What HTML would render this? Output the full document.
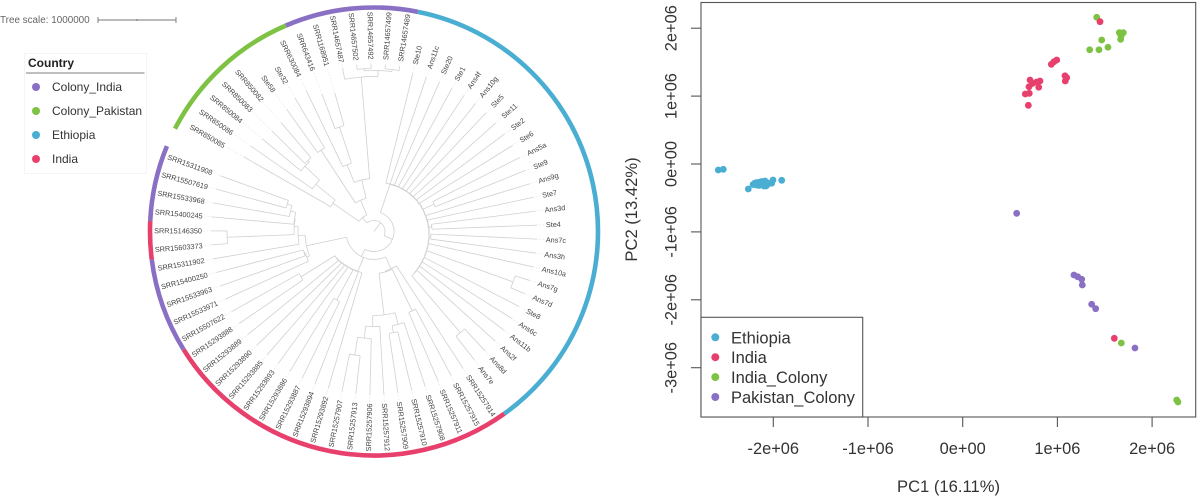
<!DOCTYPE html>
<html lang="en">
<head>
<meta charset="utf-8">
<title>Phylogenetic tree and PCA by country</title>
<style>
html,body{margin:0;padding:0;background:#fff;width:1200px;height:502px;overflow:hidden}
svg{display:block}
text{font-family:"Liberation Sans",sans-serif}
</style>
</head>
<body>
<svg id="figure" xmlns="http://www.w3.org/2000/svg" width="1200" height="502" viewBox="0 0 1200 502">
  <rect width="1200" height="502" fill="#fff"/>

  <g>
    <text x="0" y="23" font-size="9.9" fill="#666">Tree scale: 1000000</text>
    <path d="M98 20H176M98 17V23M176 17V23M137 19V21" stroke="#777" stroke-width="0.9" fill="none"/>
  </g>

  <g>
    <rect x="24.5" y="53.5" width="122" height="120" fill="#fff" stroke="#f4f4f4"/>
    <text x="28" y="67" font-size="12" font-weight="700" fill="#222">Country</text>
    <line x1="26" y1="73" x2="144.5" y2="73" stroke="#555" stroke-width="0.8"/>
    <circle cx="36" cy="87" r="4" fill="#8a70c4"/>
    <text x="52" y="91" font-size="12" fill="#333">Colony_India</text>
    <circle cx="36" cy="111" r="4" fill="#7dc242"/>
    <text x="52" y="115" font-size="12" fill="#333">Colony_Pakistan</text>
    <circle cx="36" cy="135" r="4" fill="#4aaed2"/>
    <text x="52" y="139" font-size="12" fill="#333">Ethiopia</text>
    <circle cx="36" cy="159" r="4" fill="#e8406c"/>
    <text x="52" y="163" font-size="12" fill="#333">India</text>
  </g>

  <g id="tree"></g>
  <g id="ring"></g>

  <g id="pca">
    <text x="948.5" y="492" font-size="16.6" fill="#333" text-anchor="middle">PC1 (16.11%)</text>
    <text transform="translate(637 209.5) rotate(-90)" font-size="16.6" fill="#333" text-anchor="middle">PC2 (13.42%)</text>
  </g>
</svg>

<script>
// ---------- Tree data: [depth, child, child...]; a leaf is "name" or "name:depth" ----------
function ladder(depth, step, items) {
  if (items.length <= 2) return [depth].concat(items);
  return [depth, items[0], ladder(depth + step, step, items.slice(1))];
}
const ethiopiaTips = ["Ste10","Ans11c","Ste20","Ste1","Ans4f","Ans10g","Ste5","Ste11","Ste2","Ste6",
  [66,"Ans5a","Ste9"],"Ans9g","Ste7",[58,"Ans3d","Ste4"],[57,"Ans7c","Ans3h"],"Ans10a",
  [148,"Ans7g","Ans7d"],"Ste8","Ans6c","Ans11b","Ans2f",[133,"Ans8d","Ans7e"]];
const india257Clade = [41,"SRR15257914",[42,[88,"SRR15257915","SRR15257911"],
  [84,[96,"SRR15257908",[103,"SRR15257910","SRR15257909"]],
      [95,"SRR15257912",[107,"SRR15257906",[125,"SRR15257913","SRR15257907"]]]]]];
const india293Tips = ["SRR15293892","SRR15293894",[78,"SRR15293887","SRR15293886"],"SRR15293893",
  "SRR15293885","SRR15293890","SRR15293889",[86,"SRR15293888","SRR15507622"]];
const colonyIndiaClade = [69,[72,"SRR15533971",[73,"SRR15533963","SRR15400250"]],
  [76,"SRR15311902",[80,[147,"SRR15603373","SRR15146350"],
    [80.5,"SRR15400245",[86,"SRR15533968",[91,"SRR15507619","SRR15311908"]]]]]];
const pakistanClade = [50,"SRR850085:150",[75,"SRR850086:150",[95,"SRR850084:145",[97,"SRR850083:143","SRR850082:143"]]]];
const topClade = [34,[97,"Ste58:150","Ste32:155"],
  [53,[72,"SRR630084:156",[110,"SRR643416:147","SRR1168951:144"]],
      [155,"SRR14657487:166",[161,[163,"SRR14657502:167","SRR14657492:167"],[163,"SRR14657499:167","SRR14657489:167"]]]]];
const treeRoot = [11,[18,pakistanClade,topClade],
  [20,ladder(50,0.4,ethiopiaTips),[28,india257Clade,ladder(43,0.5,india293Tips),colonyIndiaClade]]];
const countrySegments = [["Colony_Pakistan",8],["Colony_India",7],["Ethiopia",27],["India",19],["Colony_India",5],["India",2],["Colony_India",4]];

// ---------- PCA data, in millions ----------
const ethiopiaPC1 = [-2.581,-2.528,-2.264,-1.911,-2.003,-2.017,-2.214,-2.193,-2.172,-2.162,-2.140,-2.130,-2.119,-2.109,-2.098,-2.088,-2.088,-2.077,-2.067,-2.056,-2.183,-2.151,-2.119];
const ethiopiaPC2 = [-0.088,-0.078,-0.368,-0.240,-0.236,-0.284,-0.302,-0.280,-0.272,-0.302,-0.265,-0.295,-0.280,-0.309,-0.324,-0.250,-0.295,-0.324,-0.309,-0.280,-0.309,-0.317,-0.258];
const indiaPC1 = [1.450,0.936,0.964,0.993,1.080,1.098,1.083,0.711,0.739,0.781,0.816,0.803,0.700,0.661,0.703,0.693,1.601];
const indiaPC2 = [2.096,1.468,1.507,1.532,1.300,1.271,1.222,1.237,1.188,1.208,1.222,1.130,1.138,1.031,1.041,0.864,-2.567];
const indiaColonyPC1 = [1.415,1.468,1.534,1.439,1.341,1.654,1.696,1.672,1.668,1.675,2.260,2.273];
const indiaColonyPC2 = [2.161,1.826,1.719,1.683,1.683,1.934,1.934,1.885,1.836,-2.636,-3.476,-3.505];
const pakistanColonyPC1 = [0.570,1.175,1.214,1.257,1.263,1.362,1.404,1.819];
const pakistanColonyPC2 = [-0.726,-1.635,-1.660,-1.698,-1.782,-2.066,-2.131,-2.710];
const xTickValues = [-2,-1,0,1,2];
const xTickLabels = ["-2e+06","-1e+06","0e+00","1e+06","2e+06"];
const yTickValues = [-3,-2,-1,0,1,2];
const yTickLabels = ["-3e+06","-2e+06","-1e+06","0e+00","1e+06","2e+06"];
const pcaGroups = ["Pakistan_Colony","India_Colony","India","Ethiopia"];
const legendOrder = ["Ethiopia","India","India_Colony","Pakistan_Colony"];

// ---------- Shared helpers ----------
const SVGNS = "http://www.w3.org/2000/svg";
function mk(parent, tag, attrs) {
  const el = document.createElementNS(SVGNS, tag);
  for (const k in attrs) el.setAttribute(k, attrs[k]);
  parent.appendChild(el);
  return el;
}
const groupColors = {Colony_India:"#8a70c4",Colony_Pakistan:"#7dc242",Ethiopia:"#4aaed2",India:"#e8406c",
  Pakistan_Colony:"#8a70c4",India_Colony:"#7dc242"};

// ---------- Tree drawing ----------
const cx = 374, cy = 231.5, ringR = 224;
const startBearing = -60.2, stepBearing = 360 / 73;
const labelDepth = 172, dotEnd = 171, defaultTip = 163;
const branchColor = "#d0d0d0", branchWidth = 0.8;
const treeG = document.getElementById("tree");
const ringG = document.getElementById("ring");
function pol(b, r) {
  const a = b * Math.PI / 180;
  return [cx + r * Math.sin(a), cy - r * Math.cos(a)];
}
function arcPath(b0, b1, r) {
  const p = pol(b0, r), q = pol(b1, r);
  return "M" + p[0].toFixed(2) + " " + p[1].toFixed(2) + "A" + r + " " + r + " 0 " + (b1 - b0 > 180 ? 1 : 0) + " 1 " + q[0].toFixed(2) + " " + q[1].toFixed(2);
}
let tipCounter = 0;
function layout(n) {
  if (typeof n === "string") {
    const parts = n.split(":");
    return {name: parts[0], depth: parts[1] ? +parts[1] : defaultTip, angle: startBearing + stepBearing * tipCounter++, leaf: true};
  }
  const kids = n.slice(1).map(layout);
  return {depth: n[0], kids: kids, angle: (kids[0].angle + kids[kids.length - 1].angle) / 2};
}
function radial(b, r0, r1, kind) {
  const p = pol(b, r0), q = pol(b, r1);
  const el = mk(treeG, "line", {x1:p[0].toFixed(2), y1:p[1].toFixed(2), x2:q[0].toFixed(2), y2:q[1].toFixed(2), stroke:branchColor, "stroke-width":branchWidth});
  
  
  return el;
}
function drawNode(n) {
  if (n.leaf) {
    const dot = radial(n.angle, n.depth, dotEnd, "tip-guide");
    dot.setAttribute("stroke", "#e2e2e2");
    dot.setAttribute("stroke-dasharray", "1 2");
    const p = pol(n.angle, labelDepth);
    const b = ((n.angle % 360) + 360) % 360;
    const right = b < 180;
    const label = mk(treeG, "text", {
      transform: "translate(" + p[0].toFixed(2) + " " + p[1].toFixed(2) + ") rotate(" + (right ? b - 90 : b + 90).toFixed(2) + ")",
      "font-size": 7.3, fill: "#444", dy: "0.35em", "text-anchor": right ? "start" : "end"
    });
    label.textContent = n.name;
    
    
    return;
  }
  const arc = mk(treeG, "path", {d: arcPath(n.kids[0].angle, n.kids[n.kids.length - 1].angle, n.depth), fill:"none", stroke:branchColor, "stroke-width":branchWidth});
  
  
  n.kids.forEach(function (k) {
    radial(k.angle, n.depth, k.depth, k.leaf ? "tip-branch" : "internal-branch");
    drawNode(k);
  });
}
const laidOut = layout(treeRoot);
radial(laidOut.angle, 0, laidOut.depth, "root-branch");
drawNode(laidOut);

let segIndex = 0;
countrySegments.forEach(function (seg) {
  const b0 = startBearing + stepBearing * (segIndex - 0.5);
  const b1 = startBearing + stepBearing * (segIndex + seg[1] - 0.5);
  segIndex += seg[1];
  const el = mk(ringG, "path", {d: arcPath(b0, b1, ringR), fill:"none", stroke: groupColors[seg[0]], "stroke-width":4.6});
  
  
});

// ---------- PCA drawing ----------
const pcaG = document.getElementById("pca");
const plotLeft = 701, plotRight = 1195.7, plotTop = 2.5, plotBottom = 417;
function xScale(v) { return 962.7 + v * 94.7; }
function yScale(v) { return 164 - v * 67.9; }
const axisColor = "#555";
const frame = mk(pcaG, "rect", {x:plotLeft, y:plotTop, width:plotRight - plotLeft, height:plotBottom - plotTop, fill:"none", stroke:axisColor, "stroke-width":1.1});


xTickValues.forEach(function (v, i) {
  const x = xScale(v);
  const t = mk(pcaG, "line", {x1:x, y1:plotBottom, x2:x, y2:plotBottom + 10, stroke:axisColor, "stroke-width":1.1});
  
  
  const l = mk(pcaG, "text", {x:x, y:454, "font-size":16.4, fill:"#333", "text-anchor":"middle"});
  l.textContent = xTickLabels[i];
  
  
});
yTickValues.forEach(function (v, i) {
  const y = yScale(v);
  const t = mk(pcaG, "line", {x1:plotLeft - 10, y1:y, x2:plotLeft, y2:y, stroke:axisColor, "stroke-width":1.1});
  
  
  const l = mk(pcaG, "text", {transform:"translate(676.5 " + y + ") rotate(-90)", "font-size":16.4, fill:"#333", "text-anchor":"middle"});
  l.textContent = yTickLabels[i];
  
  
});
const pcaSeries = {
  Pakistan_Colony:[pakistanColonyPC1, pakistanColonyPC2],
  India_Colony:[indiaColonyPC1, indiaColonyPC2],
  India:[indiaPC1, indiaPC2],
  Ethiopia:[ethiopiaPC1, ethiopiaPC2]
};
pcaGroups.forEach(function (g) {
  const s = pcaSeries[g];
  s[0].forEach(function (v, i) {
    const c = mk(pcaG, "circle", {cx:xScale(v).toFixed(2), cy:yScale(s[1][i]).toFixed(2), r:3.4, fill:groupColors[g]});
    
    
  });
});
const legendBox = mk(pcaG, "rect", {x:plotLeft, y:317.3, width:161.7, height:plotBottom - 317.3, fill:"#fff", stroke:axisColor, "stroke-width":1.1});


legendOrder.forEach(function (g, i) {
  const y = 337.3 + i * 19.9;
  const d = mk(pcaG, "circle", {cx:715.3, cy:y, r:4, fill:groupColors[g]});
  
  
  const l = mk(pcaG, "text", {x:731, y:y + 6, "font-size":16.5, fill:"#333"});
  l.textContent = g;
  
  
});
</script>
</body>
</html>
